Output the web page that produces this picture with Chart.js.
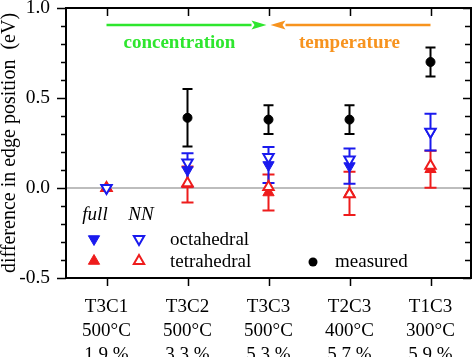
<!DOCTYPE html>
<html><head><meta charset="utf-8">
<script src="https://cdn.jsdelivr.net/npm/chart.js@4"></script>
<style>html,body{margin:0;padding:0;background:#fff;overflow:hidden}#c{display:block}</style>
</head><body><canvas id="c" width="474" height="357"></canvas>
<script>
const categories = ['T3C1','T3C2','T3C3','T2C3','T1C3'];
const temperatures = ['500°C','500°C','500°C','400°C','300°C'];
const concentrations = ['1.9 %','3.3 %','5.3 %','5.7 %','5.9 %'];
const measured = [null, 0.39, 0.38, 0.38, 0.70];
const measuredErr = [null, 0.16, 0.08, 0.08, 0.08];
const octFull = [0, 0.10, 0.128, 0.122, 0.31];
const octFullErr = [0, 0.093, 0.10, 0.098, 0.102];
const octNN = [0, 0.142, 0.172, 0.158, 0.313];
const tetFull = [0, 0.02, -0.025, -0.03, 0.104];
const tetFullErr = [0, 0.10, 0.10, 0.12, 0.103];
const tetNN = [0, 0.026, 0.005, -0.035, 0.124];
const yTicks = [-0.5, 0.0, 0.5, 1.0];
const yMinorStep = 0.1;

const C = {blue:'#1a1aee', red:'#ee1c1c', black:'#000000', green:'#2ee62e', orange:'#f7931e', gray:'#bdbdbd'};
const FONT = '"Liberation Serif","Times New Roman",serif';

function pts(arr){ return arr.map((v,i)=> v==null ? null : {x:i+1, y:v}).filter(Boolean); }

function tri(ctx, x, y, r, down, fill, stroke, lw){
  ctx.beginPath();
  const s = down ? -1 : 1;
  ctx.moveTo(x, y - s*r);
  ctx.lineTo(x + r*Math.sqrt(3)/2, y + s*r/2);
  ctx.lineTo(x - r*Math.sqrt(3)/2, y + s*r/2);
  ctx.closePath();
  if (fill){ctx.fillStyle = fill; ctx.fill();}
  if (stroke){ctx.strokeStyle = stroke; ctx.lineWidth = lw; ctx.stroke();}
}

function arrow(ctx, x1, x2, y, color){
  const dir = Math.sign(x2 - x1);
  const hl = 15, hw = 4.5;
  ctx.strokeStyle = color; ctx.fillStyle = color; ctx.lineWidth = 2.5;
  ctx.beginPath(); ctx.moveTo(x1, y); ctx.lineTo(x2 - dir*hl, y); ctx.stroke();
  ctx.beginPath(); ctx.moveTo(x2, y); ctx.lineTo(x2 - dir*hl, y - hw); ctx.lineTo(x2 - dir*hl + dir*3, y); ctx.lineTo(x2 - dir*hl, y + hw); ctx.closePath(); ctx.fill();
}

const decor = {
  id: 'decor',
  beforeDatasetsDraw(chart){
    const {ctx, chartArea: a, scales: {x, y}} = chart;
    ctx.save();
    const y0 = y.getPixelForValue(0);
    ctx.strokeStyle = C.gray; ctx.lineWidth = 2;
    ctx.beginPath(); ctx.moveTo(a.left, y0); ctx.lineTo(a.right, y0); ctx.stroke();
    const sets = [[tetFull, tetFullErr, C.red, 6],[octFull, octFullErr, C.blue, 6],[measured, measuredErr, C.black, 5]];
    for (const [vals, errs, col, cw] of sets){
      ctx.strokeStyle = col; ctx.lineWidth = 2;
      vals.forEach((v,i)=>{
        const e = errs[i];
        if (v == null || !e) return;
        const px = x.getPixelForValue(i+1);
        const yt = y.getPixelForValue(v+e), yb = y.getPixelForValue(v-e);
        ctx.beginPath();
        ctx.moveTo(px, yt); ctx.lineTo(px, yb);
        ctx.moveTo(px-cw, yt); ctx.lineTo(px+cw, yt);
        ctx.moveTo(px-cw, yb); ctx.lineTo(px+cw, yb);
        ctx.stroke();
      });
    }
    ctx.restore();
  },
  afterDraw(chart){
    const {ctx, chartArea: a, scales: {x, y}} = chart;
    ctx.save();
    ctx.strokeStyle = '#000'; ctx.lineWidth = 2;
    ctx.strokeRect(a.left, a.top, a.right - a.left, a.bottom - a.top);
    ctx.lineWidth = 1.5;
    for (let k = 0; k <= Math.round((1.0 - (-0.5))/yMinorStep); k++){
      const v = -0.5 + k*yMinorStep;
      const py = Math.round(y.getPixelForValue(v)) + 0.5;
      const major = Math.abs(v*2 - Math.round(v*2)) < 1e-6;
      ctx.beginPath();
      ctx.moveTo(a.left, py); ctx.lineTo(a.left - (major ? 9 : 5), py);
      ctx.moveTo(a.right, py); ctx.lineTo(a.right - (major ? 8 : 6), py);
      ctx.stroke();
    }
    categories.forEach((c,i)=>{
      const px = Math.round(x.getPixelForValue(i+1)) + 0.5;
      ctx.beginPath();
      ctx.moveTo(px, a.top); ctx.lineTo(px, a.top + 8);
      ctx.moveTo(px, a.bottom); ctx.lineTo(px, a.bottom + 8);
      ctx.stroke();
    });
    const ya = y.getPixelForValue(0.905);
    arrow(ctx, x.getPixelForValue(1), x.getPixelForValue(3) - 2, ya, C.green);
    arrow(ctx, x.getPixelForValue(5), x.getPixelForValue(3) + 2, ya, C.orange);
    ctx.font = 'bold 19px ' + FONT;
    ctx.textAlign = 'center'; ctx.textBaseline = 'middle';
    const yl = y.getPixelForValue(0.806);
    ctx.fillStyle = C.green; ctx.fillText('concentration', x.getPixelForValue(1.9), yl);
    ctx.fillStyle = C.orange; ctx.fillText('temperature', x.getPixelForValue(4), yl);
    ctx.fillStyle = '#000';
    ctx.font = 'italic 19px ' + FONT;
    ctx.fillText('full', 95, 215);
    ctx.fillText('NN', 141, 215);
    tri(ctx, 94, 239, 6.5, true, C.blue, C.blue, 1);
    tri(ctx, 139, 239, 6, true, '#fff', C.blue, 2);
    tri(ctx, 94, 261, 6.5, false, C.red, C.red, 1);
    tri(ctx, 139, 261, 6, false, '#fff', C.red, 2);
    ctx.beginPath(); ctx.arc(313, 262, 4.5, 0, Math.PI*2); ctx.fillStyle = '#000'; ctx.fill();
    ctx.font = '19px ' + FONT; ctx.textAlign = 'left';
    ctx.fillText('octahedral', 170, 240);
    ctx.fillText('tetrahedral', 170, 262);
    ctx.fillText('measured', 335, 262);
    ctx.restore();
  }
};

new Chart(document.getElementById('c'), {
  type: 'scatter',
  data: {
    datasets: [
      {label:'measured', data: pts(measured), pointStyle:'circle', pointRadius:4.5, backgroundColor:C.black, borderColor:C.black, borderWidth:1, order:0},
      {label:'octahedral NN', data: pts(octNN), pointStyle:'triangle', rotation:180, pointRadius:6, backgroundColor:'#fff', borderColor:C.blue, borderWidth:2, order:1},
      {label:'octahedral full', data: pts(octFull), pointStyle:'triangle', rotation:180, pointRadius:6.5, backgroundColor:C.blue, borderColor:C.blue, borderWidth:1, order:2},
      {label:'tetrahedral NN', data: pts(tetNN), pointStyle:'triangle', pointRadius:6, backgroundColor:'#fff', borderColor:C.red, borderWidth:2, order:3},
      {label:'tetrahedral full', data: pts(tetFull), pointStyle:'triangle', pointRadius:6.5, backgroundColor:C.red, borderColor:C.red, borderWidth:1, order:4}
    ]
  },
  options: {
    responsive: false, animation: false, devicePixelRatio: 1,
    layout: {autoPadding: false, padding: {top: 8, right: 3, left: 0, bottom: 0}},
    plugins: {legend: {display: false}, tooltip: {enabled: false}},
    scales: {
      x: {
        type: 'linear', min: 0.5, max: 5.5,
        afterBuildTicks: s => { s.ticks = categories.map((c,i)=>({value: i+1})); },
        afterFit: s => { s.height = 79; s.paddingLeft = 0; s.paddingRight = 0; },
        ticks: {
          autoSkip: false, maxRotation: 0, padding: 17.5, color: '#000',
          font: {family: FONT, size: 19, lineHeight: 1.263},
          callback: v => { const i = Math.round(v) - 1; return [categories[i], temperatures[i], concentrations[i]]; }
        },
        grid: {display: false, drawTicks: false}, border: {display: false}
      },
      y: {
        min: -0.5, max: 1.0,
        afterBuildTicks: s => { s.ticks = yTicks.map(v=>({value: v})); },
        afterFit: s => { s.width = 66; s.paddingTop = 0; s.paddingBottom = 0; },
        ticks: {padding: 16, color: '#000', font: {family: FONT, size: 19.5}, callback: v => Number(v).toFixed(1)},
        title: {display: true, text: 'difference in edge position  (eV)', color: '#000', font: {family: FONT, size: 20, lineHeight: 1}, padding: {top: 0, bottom: 0}},
        grid: {display: false, drawTicks: false}, border: {display: false}
      }
    }
  },
  plugins: [decor]
});
</script></body></html>
